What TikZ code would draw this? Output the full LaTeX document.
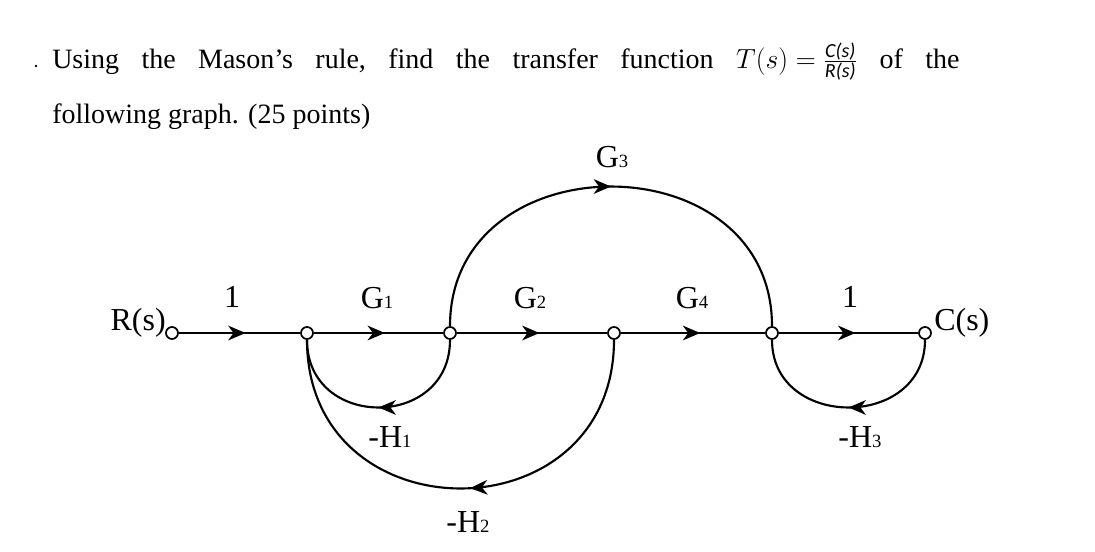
\documentclass[tikz,border=0pt]{standalone}
\usepackage{fontspec}
\setmainfont{Liberation Serif}
\newfontfamily\fracfont{Carlito}
\usetikzlibrary{arrows.meta,decorations.markings}
\tikzset{
 pt/.style={circle,draw,line width=1.3pt,fill=white,inner sep=0pt,minimum size=9pt},
 br/.style={line width=1.6pt,postaction={decorate},decoration={markings,mark=at position #1 with {\arrow{Stealth[length=13pt,width=11pt,inset=4pt]}}}},
 br/.default=0.55,
 lab/.style={font=\fontsize{24}{28}\selectfont,inner sep=0pt},
 txt/.style={font=\fontsize{21}{25}\selectfont,anchor=base west,inner sep=0pt}
}
\newcommand{\sbs}[1]{{\fontsize{14}{16}\selectfont #1}}
\newcommand{\fr}[1]{\hbox{\fontsize{15}{17}\fracfont\itshape #1}}
\begin{document}
\begin{tikzpicture}[x=0.75pt,y=-0.75pt]
\useasboundingbox (0,0) rectangle (1095,551);
\fill (36,66) circle (1.3);
\node[txt] (t1) at (52,68) {Using\hspace{0.55em} the\hspace{0.55em} Mason's\hspace{0.55em} rule,\hspace{0.55em} find\hspace{0.55em} the\hspace{0.55em} transfer\hspace{0.55em} function\hspace{0.55em} $T(s)=\frac{\fr{C(s)}}{\fr{R(s)}}$\hspace{0.55em} of\hspace{0.55em} the};
\node[txt] (t2) at (52,123) {following graph. (25 points)};
\node[pt] (r) at (172,333) {};
\node[pt] (a) at (307,333) {};
\node[pt] (b) at (450,333) {};
\node[pt] (c) at (614,333) {};
\node[pt] (d) at (772,333) {};
\node[pt] (e) at (925,333) {};
\node[lab,anchor=east] (rl) at (166,323) {R(s)};
\node[lab,anchor=west] (cl) at (934,323) {C(s)};
\draw[br] (r) -- (a);
\draw[br] (a) -- (b);
\draw[br] (b) -- (c);
\draw[br] (c) -- (d);
\draw[br] (d) -- (e);
\draw[br=0.5] (b) .. controls (450,140) and (772,140) .. (d);
\draw[br=0.5] (b) .. controls (450,430) and (307,430) .. (a);
\draw[br=0.48] (c) .. controls (614,538) and (307,538) .. (a);
\draw[br=0.5] (e) .. controls (925,430) and (772,430) .. (d);
\node[lab] (l1) at (232,297) {1};
\node[lab] (g1) at (377,298) {G\sbs{1}};
\node[lab] (g2) at (530,298) {G\sbs{2}};
\node[lab] (g4) at (692,298) {G\sbs{4}};
\node[lab] (l2) at (850,297) {1};
\node[lab] (g3) at (612,157) {G\sbs{3}};
\node[lab] (h1) at (390,437) {-H\sbs{1}};
\node[lab] (h2) at (468,522) {-H\sbs{2}};
\node[lab] (h3) at (860,437) {-H\sbs{3}};
\end{tikzpicture}
\end{document}
